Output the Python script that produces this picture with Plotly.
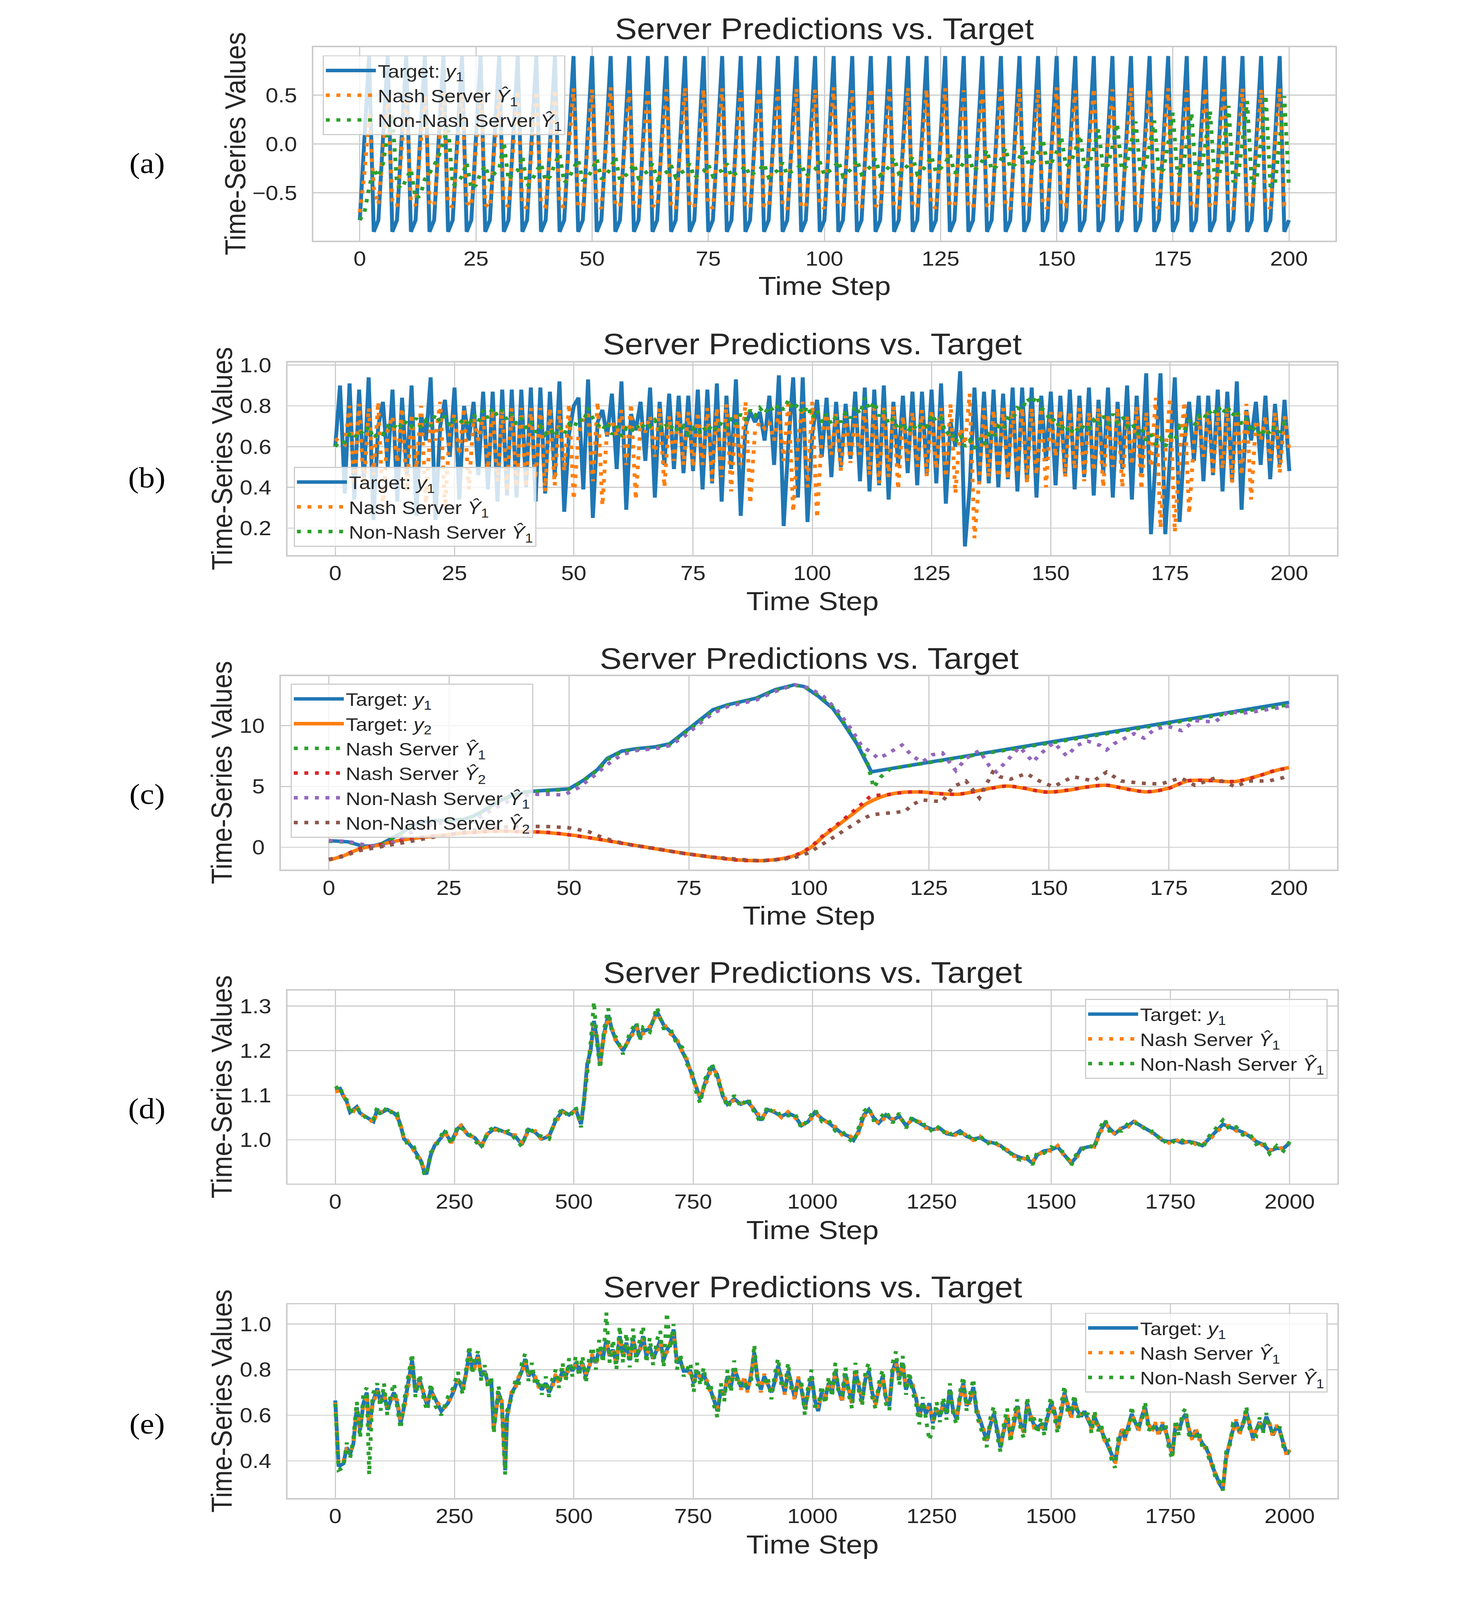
import plotly.graph_objects as go

W, H = 3788, 4568

# ---------------- Panel (a) ----------------
A_target = [
    -0.78, 0.06, 0.90, -0.90, -0.78, 0.06, 0.90, -0.90,
    -0.78, 0.06, 0.90, -0.90, -0.78, 0.06, 0.90, -0.90,
    -0.78, 0.06, 0.90, -0.90, -0.78, 0.06, 0.90, -0.90,
    -0.78, 0.06, 0.90, -0.90, -0.78, 0.06, 0.90, -0.90,
    -0.78, 0.06, 0.90, -0.90, -0.78, 0.06, 0.90, -0.90,
    -0.78, 0.06, 0.90, -0.90, -0.78, 0.06, 0.90, -0.90,
    -0.78, 0.06, 0.90, -0.90, -0.78, 0.06, 0.90, -0.90,
    -0.78, 0.06, 0.90, -0.90, -0.78, 0.06, 0.90, -0.90,
    -0.78, 0.06, 0.90, -0.90, -0.78, 0.06, 0.90, -0.90,
    -0.78, 0.06, 0.90, -0.90, -0.78, 0.06, 0.90, -0.90,
    -0.78, 0.06, 0.90, -0.90, -0.78, 0.06, 0.90, -0.90,
    -0.78, 0.06, 0.90, -0.90, -0.78, 0.06, 0.90, -0.90,
    -0.78, 0.06, 0.90, -0.90, -0.78, 0.06, 0.90, -0.90,
    -0.78, 0.06, 0.90, -0.90, -0.78, 0.06, 0.90, -0.90,
    -0.78, 0.06, 0.90, -0.90, -0.78, 0.06, 0.90, -0.90,
    -0.78, 0.06, 0.90, -0.90, -0.78, 0.06, 0.90, -0.90,
    -0.78, 0.06, 0.90, -0.90, -0.78, 0.06, 0.90, -0.90,
    -0.78, 0.06, 0.90, -0.90, -0.78, 0.06, 0.90, -0.90,
    -0.78, 0.06, 0.90, -0.90, -0.78, 0.06, 0.90, -0.90,
    -0.78, 0.06, 0.90, -0.90, -0.78, 0.06, 0.90, -0.90,
    -0.78, 0.06, 0.90, -0.90, -0.78, 0.06, 0.90, -0.90,
    -0.78, 0.06, 0.90, -0.90, -0.78, 0.06, 0.90, -0.90,
    -0.78, 0.06, 0.90, -0.90, -0.78, 0.06, 0.90, -0.90,
    -0.78, 0.06, 0.90, -0.90, -0.78, 0.06, 0.90, -0.90,
    -0.78, 0.06, 0.90, -0.90, -0.78, 0.06, 0.90, -0.90,
    -0.78]
A_nash = [
    -0.70, -0.30, 0.30, -0.45, -0.62, -0.10, 0.48, -0.58,
    -0.64, -0.06, 0.52, -0.60, -0.63, -0.05, 0.50, -0.60,
    -0.64, -0.05, 0.53, -0.61, -0.65, -0.04, 0.52, -0.60,
    -0.64, -0.05, 0.55, -0.62, -0.65, -0.04, 0.54, -0.61,
    -0.64, -0.05, 0.55, -0.62, -0.66, -0.04, 0.54, -0.62,
    -0.64, -0.03, 0.56, -0.62, -0.65, -0.04, 0.57, -0.63,
    -0.65, -0.04, 0.56, -0.62, -0.66, -0.03, 0.58, -0.63,
    -0.64, -0.04, 0.55, -0.61, -0.66, -0.04, 0.57, -0.63,
    -0.65, -0.03, 0.56, -0.62, -0.67, -0.04, 0.58, -0.64,
    -0.65, -0.04, 0.56, -0.62, -0.66, -0.03, 0.57, -0.63,
    -0.64, -0.04, 0.55, -0.62, -0.66, -0.04, 0.58, -0.63,
    -0.65, -0.03, 0.56, -0.62, -0.67, -0.04, 0.57, -0.64,
    -0.65, -0.04, 0.56, -0.62, -0.66, -0.03, 0.58, -0.63,
    -0.64, -0.04, 0.55, -0.61, -0.66, -0.04, 0.57, -0.63,
    -0.65, -0.03, 0.56, -0.62, -0.67, -0.04, 0.58, -0.64,
    -0.65, -0.04, 0.56, -0.62, -0.66, -0.03, 0.57, -0.63,
    -0.64, -0.04, 0.55, -0.62, -0.66, -0.04, 0.58, -0.63,
    -0.65, -0.03, 0.56, -0.62, -0.67, -0.04, 0.57, -0.64,
    -0.65, -0.04, 0.56, -0.62, -0.66, -0.03, 0.58, -0.63,
    -0.64, -0.04, 0.55, -0.61, -0.66, -0.04, 0.57, -0.63,
    -0.65, -0.03, 0.56, -0.62, -0.67, -0.04, 0.58, -0.64,
    -0.65, -0.04, 0.56, -0.62, -0.66, -0.03, 0.57, -0.63,
    -0.64, -0.04, 0.55, -0.62, -0.66, -0.04, 0.58, -0.63,
    -0.65, -0.03, 0.56, -0.62, -0.67, -0.04, 0.57, -0.64,
    -0.65, -0.04, 0.56, -0.62, -0.66, -0.03, 0.57, -0.63,
    -0.65]
A_nonnash = [
    -0.78, -0.70, -0.45, -0.25, -0.34, -0.20, 0.10, 0.30,
    -0.42, -0.46, -0.36, -0.26, -0.56, -0.53, -0.36, -0.30,
    -0.22, -0.12, 0.02, 0.20, -0.43, -0.40, -0.33, -0.19,
    -0.46, -0.42, -0.30, -0.22, -0.38, -0.30, -0.26, 0.02,
    -0.37, -0.30, -0.27, -0.12, -0.43, -0.38, -0.28, -0.20,
    -0.38, -0.33, -0.20, -0.10, -0.40, -0.35, -0.25, -0.16,
    -0.38, -0.34, -0.27, -0.15, -0.36, -0.32, -0.25, -0.13,
    -0.37, -0.33, -0.29, -0.20, -0.35, -0.31, -0.28, -0.20,
    -0.36, -0.32, -0.29, -0.22, -0.34, -0.30, -0.27, -0.20,
    -0.35, -0.31, -0.28, -0.21, -0.33, -0.29, -0.27, -0.20,
    -0.34, -0.30, -0.28, -0.22, -0.33, -0.29, -0.27, -0.20,
    -0.34, -0.30, -0.27, -0.19, -0.32, -0.28, -0.26, -0.20,
    -0.33, -0.29, -0.26, -0.18, -0.32, -0.28, -0.25, -0.17,
    -0.33, -0.29, -0.25, -0.16, -0.31, -0.27, -0.23, -0.15,
    -0.32, -0.28, -0.23, -0.14, -0.30, -0.26, -0.22, -0.13,
    -0.31, -0.27, -0.22, -0.12, -0.29, -0.25, -0.20, -0.10,
    -0.30, -0.26, -0.19, -0.08, -0.28, -0.24, -0.17, -0.06,
    -0.27, -0.23, -0.16, -0.04, -0.25, -0.21, -0.14, -0.02,
    -0.22, -0.18, -0.09, 0.05, -0.22, -0.18, -0.08, 0.07,
    -0.23, -0.19, -0.07, 0.09, -0.24, -0.20, -0.05, 0.15,
    -0.26, -0.22, -0.03, 0.21, -0.27, -0.23, -0.02, 0.23,
    -0.28, -0.24, -0.02, 0.24, -0.30, -0.26, 0.01, 0.32,
    -0.32, -0.28, 0.00, 0.32, -0.34, -0.30, 0.00, 0.34,
    -0.36, -0.32, 0.02, 0.39, -0.39, -0.35, 0.03, 0.44,
    -0.42, -0.38, 0.04, 0.50, -0.44, -0.40, 0.03, 0.49,
    -0.46]

# ---------------- Panel (b) ----------------
B_target = [
    0.60, 0.90, 0.37, 0.91, 0.34, 0.88, 0.43, 0.94, 0.24, 0.70,
    0.82, 0.50, 0.88, 0.33, 0.84, 0.46, 0.90, 0.26, 0.76, 0.63,
    0.94, 0.24, 0.70, 0.83, 0.55, 0.89, 0.34, 0.80, 0.63, 0.82,
    0.46, 0.87, 0.39, 0.87, 0.33, 0.88, 0.36, 0.88, 0.35, 0.88,
    0.40, 0.89, 0.33, 0.89, 0.37, 0.87, 0.45, 0.92, 0.28, 0.66,
    0.80, 0.84, 0.39, 0.93, 0.25, 0.72, 0.78, 0.65, 0.86, 0.49,
    0.92, 0.29, 0.76, 0.68, 0.82, 0.53, 0.89, 0.35, 0.82, 0.51,
    0.86, 0.49, 0.85, 0.47, 0.85, 0.48, 0.88, 0.39, 0.88, 0.42,
    0.91, 0.33, 0.85, 0.49, 0.93, 0.26, 0.70, 0.77, 0.72, 0.77,
    0.63, 0.85, 0.51, 0.95, 0.21, 0.62, 0.94, 0.35, 0.94, 0.23,
    0.66, 0.83, 0.55, 0.84, 0.45, 0.82, 0.50, 0.81, 0.54, 0.87,
    0.43, 0.89, 0.38, 0.88, 0.41, 0.90, 0.34, 0.82, 0.51, 0.85,
    0.47, 0.87, 0.41, 0.87, 0.46, 0.88, 0.42, 0.91, 0.32, 0.72,
    0.60, 0.97, 0.11, 0.40, 0.89, 0.42, 0.87, 0.42, 0.88, 0.40,
    0.86, 0.44, 0.89, 0.38, 0.89, 0.43, 0.89, 0.35, 0.85, 0.53,
    0.87, 0.41, 0.85, 0.46, 0.88, 0.39, 0.85, 0.45, 0.89, 0.36,
    0.83, 0.47, 0.89, 0.35, 0.82, 0.49, 0.90, 0.34, 0.85, 0.47,
    0.96, 0.17, 0.55, 0.96, 0.17, 0.55, 0.94, 0.23, 0.62, 0.82,
    0.53, 0.85, 0.43, 0.85, 0.46, 0.88, 0.38, 0.87, 0.43, 0.92,
    0.29, 0.78, 0.63, 0.82, 0.51, 0.85, 0.44, 0.81, 0.51, 0.83,
    0.48]
B_nash = [
    0.64, 0.62, 0.61, 0.80, 0.41, 0.81, 0.39, 0.79, 0.46, 0.82,
    0.30, 0.68, 0.75, 0.52, 0.79, 0.38, 0.76, 0.49, 0.80, 0.32,
    0.72, 0.63, 0.82, 0.30, 0.68, 0.76, 0.56, 0.79, 0.39, 0.74,
    0.63, 0.75, 0.49, 0.78, 0.43, 0.78, 0.38, 0.79, 0.40, 0.79,
    0.40, 0.79, 0.44, 0.79, 0.38, 0.79, 0.41, 0.78, 0.48, 0.81,
    0.34, 0.66, 0.74, 0.76, 0.43, 0.82, 0.31, 0.69, 0.73, 0.65,
    0.78, 0.51, 0.81, 0.34, 0.72, 0.67, 0.75, 0.55, 0.79, 0.40,
    0.75, 0.53, 0.78, 0.51, 0.77, 0.50, 0.77, 0.51, 0.79, 0.43,
    0.79, 0.45, 0.81, 0.38, 0.77, 0.51, 0.82, 0.32, 0.68, 0.72,
    0.69, 0.72, 0.63, 0.77, 0.53, 0.83, 0.28, 0.62, 0.82, 0.40,
    0.82, 0.25, 0.66, 0.76, 0.56, 0.76, 0.48, 0.75, 0.52, 0.75,
    0.56, 0.78, 0.46, 0.79, 0.42, 0.79, 0.45, 0.80, 0.39, 0.75,
    0.53, 0.77, 0.50, 0.78, 0.45, 0.78, 0.49, 0.79, 0.45, 0.81,
    0.37, 0.69, 0.61, 0.86, 0.15, 0.44, 0.79, 0.45, 0.78, 0.45,
    0.79, 0.44, 0.78, 0.47, 0.79, 0.42, 0.79, 0.46, 0.79, 0.40,
    0.77, 0.55, 0.78, 0.45, 0.77, 0.49, 0.79, 0.43, 0.77, 0.48,
    0.79, 0.40, 0.76, 0.50, 0.79, 0.40, 0.75, 0.51, 0.80, 0.39,
    0.77, 0.50, 0.84, 0.20, 0.56, 0.84, 0.18, 0.56, 0.82, 0.27,
    0.62, 0.75, 0.55, 0.77, 0.46, 0.77, 0.49, 0.79, 0.42, 0.78,
    0.46, 0.81, 0.34, 0.73, 0.63, 0.75, 0.53, 0.77, 0.47, 0.75,
    0.58]
B_nonnash = [
    0.60, 0.63, 0.62, 0.66, 0.64, 0.68, 0.66, 0.70, 0.64, 0.67,
    0.66, 0.70, 0.68, 0.72, 0.69, 0.73, 0.70, 0.74, 0.69, 0.73,
    0.70, 0.76, 0.72, 0.75, 0.70, 0.73, 0.71, 0.74, 0.70, 0.76,
    0.72, 0.78, 0.74, 0.79, 0.75, 0.78, 0.73, 0.76, 0.71, 0.74,
    0.69, 0.72, 0.67, 0.70, 0.66, 0.69, 0.65, 0.70, 0.66, 0.71,
    0.69, 0.74, 0.72, 0.79, 0.74, 0.71, 0.68, 0.72, 0.66, 0.70,
    0.65, 0.69, 0.67, 0.71, 0.68, 0.72, 0.70, 0.73, 0.69, 0.72,
    0.68, 0.71, 0.67, 0.70, 0.66, 0.69, 0.66, 0.70, 0.67, 0.71,
    0.68, 0.72, 0.69, 0.74, 0.71, 0.76, 0.73, 0.78, 0.75, 0.79,
    0.76, 0.80, 0.77, 0.81, 0.78, 0.83, 0.78, 0.81, 0.76, 0.80,
    0.74, 0.78, 0.72, 0.76, 0.71, 0.75, 0.72, 0.77, 0.74, 0.80,
    0.76, 0.84, 0.78, 0.82, 0.75, 0.78, 0.71, 0.74, 0.68, 0.72,
    0.67, 0.71, 0.68, 0.72, 0.70, 0.76, 0.72, 0.74, 0.66, 0.68,
    0.62, 0.66, 0.60, 0.63, 0.59, 0.64, 0.61, 0.66, 0.64, 0.70,
    0.68, 0.74, 0.73, 0.79, 0.78, 0.84, 0.81, 0.85, 0.79, 0.77,
    0.72, 0.74, 0.68, 0.71, 0.66, 0.70, 0.67, 0.71, 0.69, 0.73,
    0.70, 0.75, 0.71, 0.76, 0.72, 0.75, 0.70, 0.72, 0.66, 0.69,
    0.63, 0.66, 0.61, 0.64, 0.60, 0.65, 0.63, 0.70, 0.68, 0.73,
    0.70, 0.75, 0.73, 0.78, 0.75, 0.80, 0.76, 0.80, 0.75, 0.78,
    0.71, 0.74, 0.67, 0.70, 0.65, 0.69, 0.66, 0.70, 0.67, 0.72,
    0.70]

# ---------------- Panel (c) ----------------
C_y1_t = [0, 4, 7, 9, 11, 13, 15, 17.5, 20, 22, 25, 28, 30, 32, 35, 38, 41, 44, 47, 50,
          53, 56, 58, 61, 64, 68, 71, 74, 77, 80, 83, 86, 89, 93, 97, 99, 102, 105, 107, 110,
          113, 200]
C_y1 = [0.55, 0.45, 0.10, 0.10, 0.30, 0.70, 1.15, 1.80, 2.10, 2.20, 2.20, 2.30, 2.55, 2.95, 3.70, 4.25, 4.55, 4.65, 4.70, 4.80,
        5.50, 6.40, 7.30, 7.90, 8.10, 8.25, 8.50, 9.45, 10.40, 11.30, 11.70, 11.95, 12.25, 12.95, 13.35, 13.20, 12.40, 11.40, 10.30, 8.50,
        6.20, 11.90]
C_y2_t = [0, 3, 6.5, 10, 13.5, 17, 20.5, 24, 27.5, 31, 34.5, 40, 45.7, 51.3, 57, 62.6, 68, 73.8, 79.4, 85,
          90.6, 94.8, 97.6, 100.4, 103.2, 106, 108.9, 111.6, 113, 115.8, 118.7, 122.9, 127, 131.3, 135.5, 141, 144, 149.5, 153.7, 158,
          162, 166.3, 170.5, 174.8, 179, 183, 188.8, 193, 197.2, 200]
C_y2 = [-1.05, -0.70, -0.12, 0.15, 0.48, 0.70, 0.85, 1.00, 1.15, 1.25, 1.33, 1.30, 1.20, 0.97, 0.60, 0.24, -0.12, -0.48, -0.79, -1.03,
        -1.09, -0.90, -0.60, 0.00, 0.97, 1.80, 2.67, 3.50, 3.80, 4.24, 4.48, 4.55, 4.42, 4.36, 4.67, 5.03, 4.90, 4.55, 4.67, 4.97,
        5.09, 4.79, 4.55, 4.85, 5.45, 5.50, 5.40, 5.80, 6.30, 6.55]
C_nash1_t = [0, 4, 7, 9, 11, 13, 15, 17.5, 20, 22, 25, 28, 30, 32, 35, 38, 41, 44, 47, 50,
             53, 56, 58, 61, 64, 68, 71, 74, 77, 80, 83, 86, 89, 93, 97, 99, 102, 105, 107, 110,
             112, 113.5, 115, 117, 130, 150, 170, 190, 200]
C_nash1 = [0.50, 0.42, 0.12, 0.08, 0.28, 0.65, 1.10, 1.75, 2.05, 2.15, 2.20, 2.30, 2.50, 2.90, 3.65, 4.20, 4.50, 4.62, 4.68, 4.78,
           5.45, 6.35, 7.20, 7.85, 8.05, 8.20, 8.45, 9.35, 10.30, 11.20, 11.65, 11.90, 12.20, 12.90, 13.30, 13.20, 12.50, 11.50, 10.40, 8.60,
           7.20, 4.90, 5.80, 6.45, 7.25, 8.55, 9.85, 11.15, 11.70]
C_nash2_t = [0, 3, 6.5, 10, 13.5, 17, 20.5, 24, 27.5, 31, 34.5, 40, 45.7, 51.3, 57, 62.6, 68, 73.8, 79.4, 85,
             90.6, 94.8, 97.6, 100.4, 103.2, 106, 108.9, 111.6, 113, 115.8, 118.7, 122.9, 127, 131.3, 135.5, 141, 144, 149.5, 153.7, 158,
             162, 166.3, 170.5, 174.8, 179, 183, 188.8, 193, 197.2, 200]
C_nash2 = [-1.00, -0.68, -0.10, 0.17, 0.46, 0.72, 0.87, 0.98, 1.17, 1.24, 1.32, 1.29, 1.22, 0.95, 0.62, 0.22, -0.10, -0.50, -0.77, -1.05,
           -1.08, -0.92, -0.58, 0.05, 1.05, 1.90, 2.85, 3.75, 4.20, 4.30, 4.46, 4.56, 4.40, 4.38, 4.65, 5.02, 4.92, 4.53, 4.69, 4.95,
           5.10, 4.77, 4.57, 4.83, 5.47, 5.48, 5.42, 5.78, 6.32, 6.50]
C_nn1_t = [0, 4, 8, 11, 14, 17, 20, 23, 26, 29, 32, 35, 38, 42, 46, 49, 52, 55, 58, 61,
           64, 68, 71, 74, 77, 80, 83, 86, 89, 93, 97, 100, 103, 106, 109, 111, 113, 114.4, 116, 119.4,
           121.5, 123.6, 125.7, 127.8, 130.6, 132.7, 135.5, 137.6, 139, 141, 143.9, 146.7, 148, 151, 153.7, 155.8, 158, 160.7, 162, 163.5,
           167.7, 169.8, 172, 174.8, 177.6, 180.4, 184.6, 187.4, 190.2, 193, 195.8, 200]
C_nn1 = [0.55, 0.48, 0.15, 0.10, 0.50, 1.20, 1.70, 2.00, 1.85, 1.95, 2.60, 3.30, 3.90, 4.35, 4.35, 4.30, 4.90, 5.80, 6.80, 7.60,
         7.95, 8.10, 8.35, 9.10, 10.10, 11.00, 11.55, 11.85, 12.10, 12.80, 13.35, 13.10, 12.40, 11.20, 9.60, 8.30, 7.80, 7.30, 7.60, 8.40,
         7.50, 7.00, 7.60, 7.75, 6.30, 7.30, 7.94, 6.67, 6.20, 7.00, 8.24, 7.00, 7.60, 8.60, 7.50, 8.36, 8.73, 8.36, 8.00, 8.50,
         9.33, 8.97, 9.70, 9.94, 9.58, 10.40, 10.30, 11.15, 11.00, 11.15, 11.33, 11.60]
C_nn2_t = [0, 3, 6, 10, 14, 18, 22, 26, 30, 34, 38, 42, 46, 50, 54, 57, 60, 63, 68, 74,
           80, 85, 90, 94, 97, 100, 103, 106, 109, 111, 113, 115.8, 118, 120, 121.5, 123.6, 125.7, 127.8, 130, 132.7,
           135.5, 138.3, 139.7, 142, 145.3, 148, 150.9, 153.7, 155, 159.3, 162, 165, 169, 173.3, 177.5, 180.4, 184.6, 188.8, 191.6, 195.8,
           198.6, 200]
C_nn2 = [-1.00, -0.75, -0.30, 0.00, 0.30, 0.55, 0.85, 1.10, 1.40, 1.60, 1.70, 1.72, 1.70, 1.60, 1.30, 0.80, 0.45, 0.20, -0.15, -0.50,
         -0.82, -1.00, -1.12, -1.00, -0.85, -0.45, 0.30, 1.10, 1.80, 2.30, 2.67, 2.80, 2.90, 2.95, 3.50, 3.90, 3.80, 3.76, 4.97, 5.45,
         4.06, 6.18, 5.80, 5.60, 6.06, 5.45, 4.97, 5.58, 5.80, 5.45, 6.18, 5.45, 5.27, 5.20, 5.70, 5.09, 5.70, 4.97, 5.45, 5.45,
         5.70, 5.94]

# ---------------- Panel (d) ----------------
D_t = [0, 10, 17, 24, 31, 38, 45, 52, 66, 80,
       88, 95, 109, 123, 130, 137, 144, 151, 165, 172,
       179, 186, 191, 200, 208, 222, 229, 243, 257, 264,
       278, 292, 306, 320, 335, 349, 363, 377, 391, 405,
       419, 433, 448, 462, 476, 490, 504, 515, 521, 528,
       535, 542, 549, 555, 563, 572, 580, 589, 603, 617,
       631, 638, 645, 659, 674, 688, 702, 716, 727, 737,
       747, 758, 765, 775, 789, 800, 812, 822, 836, 850,
       864, 878, 892, 906, 920, 935, 949, 963, 977, 991,
       1005, 1020, 1034, 1048, 1062, 1076, 1086, 1097, 1108, 1118,
       1128, 1139, 1154, 1168, 1182, 1196, 1210, 1224, 1238, 1252,
       1267, 1281, 1295, 1309, 1323, 1337, 1351, 1365, 1380, 1394,
       1408, 1422, 1436, 1450, 1461, 1471, 1485, 1500, 1514, 1528,
       1542, 1552, 1563, 1577, 1591, 1603, 1613, 1622, 1634, 1648,
       1662, 1673, 1687, 1701, 1716, 1733, 1747, 1761, 1775, 1789,
       1803, 1817, 1831, 1846, 1860, 1874, 1888, 1902, 1916, 1930,
       1944, 1958, 1973, 1987, 2000]
D_target = [1.112, 1.115, 1.098, 1.086, 1.062, 1.068, 1.074, 1.060, 1.050, 1.041,
            1.068, 1.060, 1.068, 1.060, 1.053, 1.032, 1.002, 0.996, 0.978, 0.966,
            0.954, 0.930, 0.923, 0.966, 0.987, 1.005, 1.017, 0.996, 1.026, 1.032,
            1.011, 1.005, 0.987, 1.014, 1.026, 1.020, 1.014, 1.008, 0.990, 1.023,
            1.017, 1.002, 1.008, 1.044, 1.065, 1.056, 1.068, 1.035, 1.086, 1.170,
            1.200, 1.267, 1.222, 1.168, 1.237, 1.280, 1.246, 1.222, 1.200, 1.230,
            1.258, 1.230, 1.243, 1.249, 1.288, 1.258, 1.243, 1.222, 1.200, 1.177,
            1.147, 1.110, 1.092, 1.128, 1.165, 1.147, 1.098, 1.080, 1.092, 1.080,
            1.086, 1.068, 1.044, 1.068, 1.062, 1.053, 1.060, 1.053, 1.032, 1.041,
            1.062, 1.047, 1.038, 1.026, 1.014, 1.008, 0.999, 1.020, 1.056, 1.068,
            1.050, 1.038, 1.056, 1.044, 1.053, 1.032, 1.047, 1.038, 1.029, 1.023,
            1.026, 1.014, 1.011, 1.020, 1.008, 1.002, 1.005, 0.996, 0.993, 0.987,
            0.975, 0.966, 0.960, 0.957, 0.948, 0.966, 0.975, 0.978, 0.984, 0.966,
            0.948, 0.960, 0.981, 0.984, 0.987, 1.020, 1.038, 1.026, 1.014, 1.026,
            1.032, 1.041, 1.032, 1.023, 1.014, 0.999, 0.996, 0.999, 0.993, 0.996,
            0.993, 0.987, 1.002, 1.020, 1.035, 1.029, 1.023, 1.017, 1.008, 0.996,
            0.990, 0.975, 0.981, 0.981, 0.993]
D_nash = [1.108, 1.110, 1.101, 1.082, 1.066, 1.064, 1.078, 1.056, 1.053, 1.037,
          1.064, 1.063, 1.064, 1.063, 1.049, 1.035, 0.998, 0.999, 0.975, 0.969,
          0.950, 0.934, 0.927, 0.962, 0.990, 1.001, 1.020, 0.993, 1.022, 1.035,
          1.007, 1.008, 0.984, 1.017, 1.022, 1.023, 1.011, 1.011, 0.994, 1.019,
          1.020, 0.999, 1.011, 1.040, 1.062, 1.059, 1.064, 1.039, 1.080, 1.160,
          1.210, 1.258, 1.230, 1.175, 1.230, 1.275, 1.252, 1.215, 1.205, 1.225,
          1.252, 1.236, 1.238, 1.254, 1.282, 1.262, 1.238, 1.226, 1.196, 1.181,
          1.142, 1.114, 1.096, 1.122, 1.160, 1.150, 1.102, 1.084, 1.088, 1.083,
          1.082, 1.071, 1.048, 1.064, 1.065, 1.050, 1.063, 1.050, 1.035, 1.038,
          1.058, 1.050, 1.035, 1.029, 1.011, 1.011, 1.003, 1.016, 1.052, 1.064,
          1.053, 1.035, 1.052, 1.047, 1.050, 1.035, 1.044, 1.041, 1.026, 1.026,
          1.023, 1.017, 1.008, 1.017, 1.011, 0.999, 1.008, 0.993, 0.996, 0.984,
          0.978, 0.963, 0.963, 0.954, 0.952, 0.962, 0.978, 0.975, 0.987, 0.963,
          0.952, 0.957, 0.978, 0.987, 0.984, 1.016, 1.034, 1.029, 1.011, 1.029,
          1.029, 1.044, 1.029, 1.026, 1.011, 1.002, 0.993, 1.002, 0.990, 0.999,
          0.990, 0.990, 0.999, 1.016, 1.031, 1.032, 1.020, 1.020, 1.005, 0.999,
          0.987, 0.978, 0.978, 0.984, 0.990]
D_nonnash = [1.115, 1.122, 1.094, 1.090, 1.058, 1.074, 1.070, 1.066, 1.046, 1.047,
             1.074, 1.055, 1.074, 1.054, 1.058, 1.026, 1.008, 0.990, 0.984, 0.960,
             0.960, 0.925, 0.920, 0.972, 0.981, 1.011, 1.024, 0.990, 1.032, 1.026,
             1.017, 0.999, 0.982, 1.020, 1.030, 1.014, 1.020, 1.002, 0.985, 1.030,
             1.012, 1.008, 1.002, 1.050, 1.070, 1.050, 1.074, 1.028, 1.094, 1.150,
             1.215, 1.310, 1.212, 1.160, 1.246, 1.295, 1.238, 1.230, 1.192, 1.240,
             1.264, 1.222, 1.252, 1.242, 1.298, 1.250, 1.250, 1.214, 1.208, 1.170,
             1.155, 1.100, 1.082, 1.136, 1.172, 1.140, 1.106, 1.072, 1.100, 1.074,
             1.094, 1.062, 1.038, 1.076, 1.056, 1.060, 1.054, 1.060, 1.026, 1.048,
             1.068, 1.041, 1.044, 1.020, 1.020, 1.002, 0.994, 1.028, 1.064, 1.074,
             1.044, 1.046, 1.064, 1.038, 1.060, 1.026, 1.054, 1.032, 1.035, 1.017,
             1.032, 1.008, 1.017, 1.014, 1.015, 0.996, 1.011, 0.990, 0.999, 0.980,
             0.981, 0.960, 0.955, 0.962, 0.944, 0.972, 0.970, 0.984, 0.978, 0.972,
             0.942, 0.966, 0.975, 0.990, 0.980, 1.028, 1.046, 1.020, 1.020, 1.020,
             1.038, 1.036, 1.038, 1.017, 1.020, 0.993, 1.002, 0.993, 0.999, 0.990,
             0.999, 0.981, 1.008, 1.026, 1.044, 1.023, 1.029, 1.011, 1.014, 0.990,
             0.996, 0.969, 0.987, 0.975, 0.996]

# ---------------- Panel (e) ----------------
E_t = [0, 4, 7, 17, 24, 31, 38, 45, 52, 59,
       66, 71, 78, 88, 95, 102, 109, 116, 123, 130,
       137, 144, 151, 161, 168, 177, 186, 193, 200, 210,
       222, 236, 247, 257, 267, 275, 281, 287, 292, 299,
       306, 313, 320, 327, 332, 342, 349, 356, 360, 370,
       377, 384, 391, 398, 405, 412, 419, 426, 433, 441,
       448, 455, 462, 469, 476, 483, 490, 497, 504, 511,
       518, 525, 532, 539, 546, 553, 561, 568, 575, 582,
       589, 596, 603, 610, 617, 624, 631, 638, 645, 652,
       659, 666, 674, 681, 688, 695, 702, 709, 716, 723,
       730, 744, 751, 758, 765, 772, 779, 786, 794, 801,
       808, 815, 822, 829, 836, 843, 850, 857, 864, 871,
       878, 885, 892, 899, 906, 914, 921, 928, 935, 942,
       949, 956, 963, 970, 977, 984, 991, 998, 1005, 1012,
       1019, 1027, 1034, 1041, 1048, 1055, 1062, 1069, 1076, 1083,
       1090, 1097, 1104, 1111, 1118, 1125, 1132, 1139, 1147, 1154,
       1161, 1168, 1175, 1182, 1189, 1196, 1203, 1210, 1217, 1224,
       1231, 1238, 1245, 1252, 1260, 1267, 1274, 1281, 1288, 1295,
       1302, 1309, 1316, 1323, 1330, 1337, 1344, 1351, 1358, 1365,
       1373, 1380, 1387, 1394, 1401, 1408, 1415, 1422, 1429, 1436,
       1443, 1450, 1457, 1464, 1471, 1479, 1486, 1493, 1500, 1507,
       1514, 1521, 1528, 1535, 1542, 1549, 1556, 1563, 1570, 1577,
       1585, 1591, 1598, 1605, 1612, 1620, 1627, 1634, 1641, 1648,
       1655, 1662, 1669, 1676, 1683, 1690, 1697, 1704, 1711, 1718,
       1726, 1733, 1740, 1747, 1754, 1761, 1768, 1775, 1782, 1789,
       1796, 1803, 1810, 1817, 1824, 1831, 1838, 1846, 1853, 1860,
       1867, 1874, 1881, 1888, 1895, 1902, 1909, 1916, 1923, 1930,
       1937, 1944, 1951, 1958, 1965, 1972, 1979, 1987, 1994, 2000]
E_target = [0.665, 0.476, 0.376, 0.388, 0.459, 0.429, 0.476, 0.635, 0.535, 0.653,
            0.700, 0.535, 0.653, 0.718, 0.653, 0.700, 0.624, 0.665, 0.700, 0.653,
            0.565, 0.635, 0.712, 0.841, 0.700, 0.753, 0.688, 0.641, 0.712, 0.665,
            0.618, 0.653, 0.700, 0.759, 0.712, 0.794, 0.876, 0.806, 0.818, 0.865,
            0.771, 0.794, 0.741, 0.747, 0.541, 0.700, 0.653, 0.359, 0.594, 0.700,
            0.724, 0.759, 0.794, 0.847, 0.771, 0.794, 0.759, 0.735, 0.712, 0.741,
            0.700, 0.735, 0.771, 0.747, 0.794, 0.771, 0.818, 0.794, 0.829, 0.794,
            0.829, 0.771, 0.818, 0.859, 0.829, 0.888, 0.853, 0.929, 0.859, 0.888,
            0.829, 0.947, 0.859, 0.918, 0.841, 0.935, 0.859, 0.888, 0.947, 0.859,
            0.900, 0.847, 0.888, 0.929, 0.841, 0.888, 0.912, 0.976, 0.829, 0.841,
            0.794, 0.794, 0.741, 0.794, 0.759, 0.782, 0.741, 0.712, 0.665, 0.618,
            0.712, 0.688, 0.771, 0.724, 0.806, 0.759, 0.724, 0.759, 0.712, 0.771,
            0.876, 0.759, 0.712, 0.771, 0.741, 0.700, 0.747, 0.818, 0.759, 0.700,
            0.794, 0.735, 0.676, 0.759, 0.712, 0.629, 0.700, 0.771, 0.665, 0.618,
            0.700, 0.676, 0.741, 0.700, 0.794, 0.712, 0.665, 0.782, 0.712, 0.653,
            0.794, 0.735, 0.665, 0.759, 0.794, 0.700, 0.653, 0.712, 0.771, 0.676,
            0.641, 0.794, 0.841, 0.759, 0.829, 0.712, 0.759, 0.724, 0.676, 0.594,
            0.653, 0.606, 0.653, 0.565, 0.629, 0.594, 0.653, 0.606, 0.712, 0.618,
            0.582, 0.676, 0.741, 0.641, 0.665, 0.724, 0.618, 0.582, 0.535, 0.488,
            0.559, 0.606, 0.535, 0.459, 0.535, 0.594, 0.506, 0.559, 0.641, 0.565,
            0.524, 0.653, 0.594, 0.559, 0.547, 0.559, 0.535, 0.594, 0.653, 0.618,
            0.547, 0.606, 0.700, 0.641, 0.594, 0.665, 0.618, 0.594, 0.618, 0.582,
            0.547, 0.594, 0.559, 0.535, 0.500, 0.465, 0.429, 0.394, 0.476, 0.535,
            0.500, 0.547, 0.606, 0.571, 0.535, 0.594, 0.635, 0.559, 0.535, 0.559,
            0.518, 0.559, 0.535, 0.476, 0.429, 0.559, 0.535, 0.582, 0.606, 0.535,
            0.500, 0.535, 0.506, 0.476, 0.459, 0.429, 0.376, 0.329, 0.300, 0.276,
            0.418, 0.476, 0.535, 0.571, 0.524, 0.559, 0.618, 0.559, 0.500, 0.535,
            0.571, 0.535, 0.594, 0.559, 0.512, 0.547, 0.535, 0.476, 0.429, 0.447]
E_nash = [0.655, 0.470, 0.385, 0.398, 0.450, 0.440, 0.468, 0.622, 0.546, 0.642,
          0.690, 0.548, 0.640, 0.708, 0.664, 0.690, 0.636, 0.655, 0.690, 0.664,
          0.578, 0.626, 0.700, 0.830, 0.712, 0.742, 0.698, 0.652, 0.700, 0.676,
          0.628, 0.642, 0.712, 0.748, 0.722, 0.784, 0.865, 0.816, 0.808, 0.854,
          0.782, 0.783, 0.752, 0.736, 0.552, 0.690, 0.664, 0.370, 0.582, 0.710,
          0.712, 0.770, 0.782, 0.836, 0.782, 0.783, 0.770, 0.724, 0.722, 0.730,
          0.712, 0.724, 0.782, 0.736, 0.805, 0.760, 0.808, 0.805, 0.818, 0.805,
          0.818, 0.782, 0.806, 0.870, 0.818, 0.876, 0.864, 0.916, 0.870, 0.876,
          0.840, 0.935, 0.870, 0.906, 0.852, 0.922, 0.870, 0.876, 0.936, 0.870,
          0.889, 0.858, 0.876, 0.918, 0.852, 0.876, 0.924, 0.962, 0.840, 0.830,
          0.805, 0.783, 0.752, 0.783, 0.770, 0.771, 0.752, 0.700, 0.676, 0.630,
          0.700, 0.699, 0.760, 0.735, 0.795, 0.770, 0.712, 0.770, 0.700, 0.782,
          0.862, 0.770, 0.700, 0.782, 0.730, 0.712, 0.736, 0.806, 0.770, 0.690,
          0.782, 0.746, 0.665, 0.770, 0.700, 0.640, 0.690, 0.760, 0.676, 0.630,
          0.690, 0.687, 0.730, 0.712, 0.782, 0.724, 0.654, 0.770, 0.724, 0.642,
          0.782, 0.746, 0.654, 0.770, 0.782, 0.712, 0.642, 0.724, 0.760, 0.687,
          0.652, 0.782, 0.830, 0.770, 0.818, 0.724, 0.748, 0.735, 0.665, 0.606,
          0.642, 0.618, 0.642, 0.576, 0.618, 0.606, 0.642, 0.618, 0.700, 0.630,
          0.594, 0.665, 0.730, 0.652, 0.654, 0.712, 0.630, 0.570, 0.546, 0.478,
          0.570, 0.595, 0.546, 0.470, 0.524, 0.605, 0.496, 0.570, 0.630, 0.576,
          0.513, 0.642, 0.605, 0.548, 0.558, 0.548, 0.546, 0.583, 0.642, 0.629,
          0.536, 0.617, 0.688, 0.652, 0.583, 0.676, 0.607, 0.605, 0.607, 0.593,
          0.536, 0.605, 0.548, 0.546, 0.489, 0.476, 0.418, 0.385, 0.466, 0.546,
          0.489, 0.558, 0.595, 0.582, 0.524, 0.605, 0.624, 0.570, 0.524, 0.570,
          0.507, 0.570, 0.524, 0.487, 0.418, 0.570, 0.524, 0.593, 0.595, 0.546,
          0.489, 0.546, 0.495, 0.487, 0.448, 0.440, 0.365, 0.340, 0.290, 0.286,
          0.407, 0.487, 0.524, 0.582, 0.513, 0.570, 0.607, 0.570, 0.489, 0.546,
          0.560, 0.546, 0.583, 0.570, 0.501, 0.558, 0.524, 0.487, 0.418, 0.456]
E_nonnash = [0.650, 0.500, 0.360, 0.370, 0.480, 0.410, 0.500, 0.660, 0.500, 0.700,
             0.720, 0.340, 0.690, 0.740, 0.620, 0.740, 0.600, 0.690, 0.740, 0.630,
             0.540, 0.660, 0.740, 0.870, 0.680, 0.780, 0.660, 0.620, 0.740, 0.640,
             0.600, 0.680, 0.720, 0.790, 0.690, 0.830, 0.905, 0.780, 0.850, 0.880,
             0.750, 0.820, 0.720, 0.770, 0.520, 0.730, 0.630, 0.340, 0.620, 0.680,
             0.750, 0.730, 0.830, 0.870, 0.750, 0.830, 0.730, 0.760, 0.690, 0.770,
             0.680, 0.760, 0.800, 0.720, 0.830, 0.750, 0.850, 0.770, 0.860, 0.770,
             0.860, 0.740, 0.850, 0.900, 0.800, 0.930, 0.830, 1.050, 0.830, 0.930,
             0.800, 0.990, 0.830, 0.960, 0.810, 0.980, 0.830, 0.930, 0.990, 0.830,
             0.940, 0.820, 0.930, 0.970, 0.810, 1.050, 0.890, 1.000, 0.800, 0.870,
             0.770, 0.830, 0.700, 0.830, 0.730, 0.810, 0.710, 0.740, 0.640, 0.590,
             0.740, 0.660, 0.800, 0.700, 0.840, 0.730, 0.750, 0.730, 0.740, 0.740,
             0.910, 0.730, 0.740, 0.740, 0.770, 0.670, 0.780, 0.850, 0.730, 0.720,
             0.830, 0.710, 0.700, 0.730, 0.740, 0.600, 0.730, 0.800, 0.640, 0.640,
             0.730, 0.650, 0.770, 0.680, 0.830, 0.690, 0.690, 0.810, 0.690, 0.630,
             0.830, 0.710, 0.640, 0.790, 0.830, 0.680, 0.630, 0.740, 0.800, 0.650,
             0.620, 0.830, 0.880, 0.730, 0.860, 0.690, 0.790, 0.700, 0.650, 0.560,
             0.680, 0.580, 0.490, 0.540, 0.660, 0.570, 0.680, 0.580, 0.740, 0.600,
             0.560, 0.700, 0.770, 0.620, 0.690, 0.760, 0.600, 0.560, 0.510, 0.460,
             0.590, 0.640, 0.510, 0.440, 0.560, 0.630, 0.480, 0.590, 0.670, 0.540,
             0.500, 0.680, 0.570, 0.590, 0.520, 0.590, 0.510, 0.620, 0.680, 0.590,
             0.520, 0.640, 0.730, 0.610, 0.620, 0.690, 0.590, 0.620, 0.590, 0.610,
             0.520, 0.620, 0.530, 0.560, 0.480, 0.490, 0.400, 0.370, 0.500, 0.510,
             0.530, 0.520, 0.640, 0.550, 0.560, 0.570, 0.660, 0.530, 0.560, 0.530,
             0.540, 0.540, 0.560, 0.450, 0.410, 0.580, 0.510, 0.610, 0.630, 0.510,
             0.520, 0.510, 0.530, 0.460, 0.470, 0.410, 0.390, 0.310, 0.310, 0.270,
             0.440, 0.460, 0.560, 0.550, 0.540, 0.540, 0.640, 0.540, 0.520, 0.510,
             0.590, 0.520, 0.610, 0.540, 0.530, 0.530, 0.550, 0.460, 0.440, 0.440]

# ---------------- Labels / ticks ----------------
TITLE = "Server Predictions vs. Target"
XTITLE = "Time Step"
YTITLE = "Time-Series Values"
PANEL_LABELS = ["(a)", "(b)", "(c)", "(d)", "(e)"]
L_T1 = "Target: <i>y</i><sub>1</sub>"
L_T2 = "Target: <i>y</i><sub>2</sub>"
L_N1 = "Nash Server <i>Ŷ</i><sub>1</sub>"
L_N2 = "Nash Server <i>Ŷ</i><sub>2</sub>"
L_NN1 = "Non-Nash Server <i>Ŷ</i><sub>1</sub>"
L_NN2 = "Non-Nash Server <i>Ŷ</i><sub>2</sub>"
XT_200 = [0, 25, 50, 75, 100, 125, 150, 175, 200]
XT_2000 = [0, 250, 500, 750, 1000, 1250, 1500, 1750, 2000]

# ---------------- Styling ----------------
BLUE, ORANGE, GREEN = "#1f77b4", "#ff7f0e", "#2ca02c"
RED, PURPLE, BROWN = "#d62728", "#9467bd", "#8c564b"
TXT = "#262626"
GRID = "#cccccc"
FONT = "Liberation Sans, Arial, Helvetica, sans-serif"
SERIF = "Liberation Serif, Times New Roman, serif"
LW = 10
DOT = "10px,17px"


def px_x(v):
    return v / W


def px_y(v):
    return 1 - v / H


fig = go.Figure()


def add(i, x, y, name, color, dotted, shape="linear"):
    s = "" if i == 1 else str(i)
    fig.add_trace(go.Scatter(
        x=x, y=y, mode="lines", name=name,
        line=dict(color=color, width=LW, dash=DOT if dotted else "solid", shape=shape),
        xaxis="x" + s, yaxis="y" + s, legend="legend" + s, hoverinfo="skip"))


steps = list(range(len(A_target)))
add(1, steps, A_target, L_T1, BLUE, False)
add(1, steps, A_nash, L_N1, ORANGE, True)
add(1, steps, A_nonnash, L_NN1, GREEN, True)

steps_b = list(range(len(B_target)))
add(2, steps_b, B_target, L_T1, BLUE, False)
add(2, steps_b, B_nash, L_N1, ORANGE, True)
add(2, steps_b, B_nonnash, L_NN1, GREEN, True)

add(3, C_y1_t, C_y1, L_T1, BLUE, False)
add(3, C_y2_t, C_y2, L_T2, ORANGE, False, "spline")
add(3, C_nash1_t, C_nash1, L_N1, GREEN, True)
add(3, C_nash2_t, C_nash2, L_N2, RED, True, "spline")
add(3, C_nn1_t, C_nn1, L_NN1, PURPLE, True)
add(3, C_nn2_t, C_nn2, L_NN2, BROWN, True)

add(4, D_t, D_target, L_T1, BLUE, False)
add(4, D_t, D_nash, L_N1, ORANGE, True)
add(4, D_t, D_nonnash, L_NN1, GREEN, True)

add(5, E_t, E_target, L_T1, BLUE, False)
add(5, E_t, E_nash, L_N1, ORANGE, True)
add(5, E_t, E_nonnash, L_NN1, GREEN, True)

panels = [
    dict(x0=802, x1=3418, y0=135, y1=687, xr=[-10, 210], yr=[-0.99, 0.99], xt=XT_200,
         yt=[-0.5, 0.0, 0.5], yf=".1f", ty=82, xty=816, ytx=603, ly=466,
         leg=dict(x=826, y=158, xa="left", ya="top")),
    dict(x0=736, x1=3422, y0=1035, y1=1585, xr=[-10, 210], yr=[0.067, 1.013], xt=XT_200,
         yt=[0.2, 0.4, 0.6, 0.8, 1.0], yf=".1f", ty=982, xty=1716, ytx=568, ly=1364,
         leg=dict(x=752, y=1561, xa="left", ya="bottom")),
    dict(x0=719, x1=3422, y0=1930, y1=2483, xr=[-10, 210], yr=[-1.84, 14.07], xt=XT_200,
         yt=[0, 5, 10], yf="d", ty=1880, xty=2614, ytx=568, ly=2267,
         leg=dict(x=744, y=1952, xa="left", ya="top")),
    dict(x0=736, x1=3423, y0=2828, y1=3379, xr=[-100, 2100], yr=[0.902, 1.335], xt=XT_2000,
         yt=[1.0, 1.1, 1.2, 1.3], yf=".1f", ty=2777, xty=3511, ytx=568, ly=3165,
         leg=dict(x=3398, y=2852, xa="right", ya="top")),
    dict(x0=736, x1=3423, y0=3724, y1=4277, xr=[-100, 2100], yr=[0.237, 1.086], xt=XT_2000,
         yt=[0.4, 0.6, 0.8, 1.0], yf=".1f", ty=3675, xty=4409, ytx=568, ly=4065,
         leg=dict(x=3398, y=3748, xa="right", ya="top")),
]

layout = dict(
    width=W, height=H, margin=dict(l=0, r=0, t=0, b=0, autoexpand=False),
    paper_bgcolor="white", plot_bgcolor="white",
    font=dict(family=FONT, color=TXT, size=58),
    showlegend=True, annotations=[],
)

for k, p in enumerate(panels):
    i = k + 1
    s = "" if i == 1 else str(i)
    ax_common = dict(
        showgrid=True, gridcolor=GRID, gridwidth=3,
        showline=True, linecolor=GRID, linewidth=4, mirror=True,
        zeroline=False, tickfont=dict(size=58, family=FONT, color=TXT),
    )
    layout["xaxis" + s] = dict(ax_common, domain=[px_x(p["x0"]), px_x(p["x1"])],
                               range=p["xr"], tickvals=p["xt"], anchor="y" + s,
                               ticks="", ticklabelstandoff=-2)
    layout["yaxis" + s] = dict(ax_common, domain=[px_y(p["y1"]), px_y(p["y0"])],
                               range=p["yr"], tickvals=p["yt"], tickformat=p["yf"],
                               anchor="x" + s, ticks="outside", ticklen=26,
                               tickcolor="rgba(0,0,0,0)")
    lg = p["leg"]
    layout["legend" + s] = dict(
        x=px_x(lg["x"]), y=px_y(lg["y"]), xanchor=lg["xa"], yanchor=lg["ya"],
        xref="paper", yref="paper",
        bgcolor="rgba(255,255,255,0.8)", bordercolor=GRID, borderwidth=3,
        font=dict(size=52, family=FONT, color=TXT), itemwidth=128,
        tracegroupgap=0,
    )
    cx = (p["x0"] + p["x1"]) / 2
    cy = (p["y0"] + p["y1"]) / 2
    layout["annotations"] += [
        dict(text=TITLE, x=px_x(cx), y=px_y(p["ty"]), xref="paper", yref="paper",
             xanchor="center", yanchor="middle", showarrow=False,
             font=dict(size=84, family=FONT, color=TXT)),
        dict(text=XTITLE, x=px_x(cx), y=px_y(p["xty"]), xref="paper", yref="paper",
             xanchor="center", yanchor="middle", showarrow=False,
             font=dict(size=75, family=FONT, color=TXT)),
        dict(text=YTITLE, x=px_x(p["ytx"]), y=px_y(cy), xref="paper", yref="paper",
             xanchor="center", yanchor="middle", showarrow=False, textangle=-90,
             font=dict(size=74, family=FONT, color=TXT)),
        dict(text=PANEL_LABELS[k], x=px_x(376), y=px_y(p["ly"]), xref="paper",
             yref="paper", xanchor="center", yanchor="middle", showarrow=False,
             font=dict(size=82, family=SERIF, color="#000000")),
    ]

fig.update_layout(**layout)

# The figure is drawn at its full 3788x4568 size; if the browser viewport is
# smaller, the finished drawing is scaled (as a whole) to fit the viewport.
FIT_JS = """
var gd = document.getElementById('{plot_id}');
document.documentElement.style.margin = '0';
document.body.style.margin = '0';
document.documentElement.style.overflow = 'hidden';
document.body.style.overflow = 'hidden';
var w = window.innerWidth, h = window.innerHeight;
var sx = w / %d, sy = h / %d;
if (w > 100 && h > 100 && (Math.abs(sx - 1) > 0.001 || Math.abs(sy - 1) > 0.001)) {
    gd.style.transformOrigin = '0 0';
    gd.style.transform = 'scale(' + sx + ',' + sy + ')';
}
""" % (W, H)

fig.write_html("out.html", post_script=FIT_JS, config={"displayModeBar": False})
